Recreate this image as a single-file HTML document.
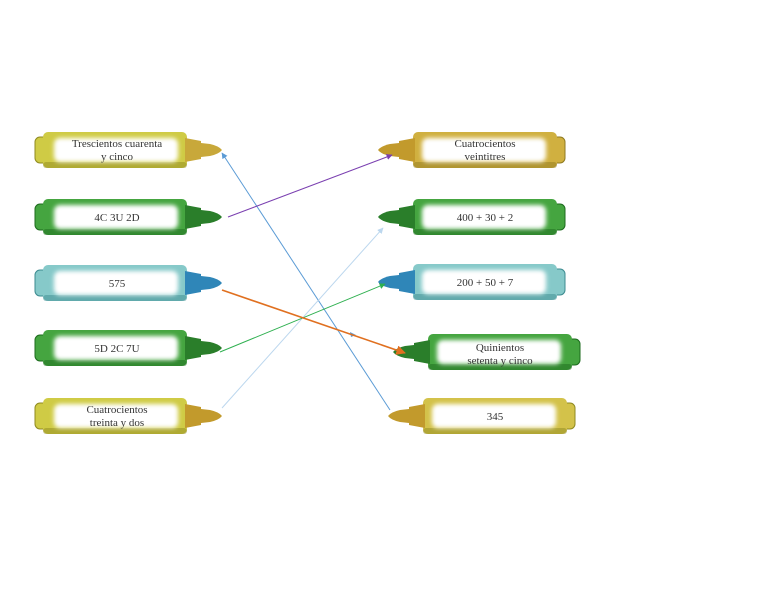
<!DOCTYPE html>
<html><head><meta charset="utf-8"><style>
html,body{margin:0;padding:0;background:#fff;width:768px;height:594px;overflow:hidden}
svg text{font-family:"Liberation Serif",serif;font-size:11px;fill:#333;text-anchor:middle}
</style></head><body>
<svg width="768" height="594" viewBox="0 0 768 594" xmlns="http://www.w3.org/2000/svg">
<defs>
<filter id="bl" x="-10%" y="-30%" width="120%" height="160%"><feGaussianBlur stdDeviation="2.2"/></filter>
<g id="mk">
<rect x="0" y="5" width="14" height="26" rx="5" fill="var(--b)" stroke="var(--d)" stroke-width="1"/>
<rect x="8" y="0" width="144" height="36" rx="5" fill="var(--b)"/>
<rect x="8" y="30" width="144" height="6" rx="3" fill="var(--d)" opacity=".5"/>
<rect x="19" y="6" width="124" height="24" rx="6" fill="#fff" filter="url(#bl)"/>
<path d="M150 6 L166 9 L166 27 L150 30 Z" fill="var(--t)"/>
<path d="M166 11 L175 12 Q184 14 187 18 Q184 22 175 24 L166 25 Z" fill="var(--t)"/>
</g>
<marker id="ar" viewBox="0 0 10 10" refX="9" refY="5" markerWidth="6" markerHeight="6" orient="auto-start-reverse"><path d="M0 0L10 5L0 10z" fill="context-stroke"/></marker>
</defs>
<use href="#mk" x="35" y="132" style="--b:#cfcb45;--d:#8f8a20;--t:#c8a83a"/>
<use href="#mk" x="35" y="199" style="--b:#45a540;--d:#1d6b1e;--t:#2a7e2a"/>
<use href="#mk" x="35" y="265" style="--b:#86c9c9;--d:#3c8b90;--t:#2f86b8"/>
<use href="#mk" x="35" y="330" style="--b:#45a540;--d:#1d6b1e;--t:#2a7e2a"/>
<use href="#mk" x="35" y="398" style="--b:#cfcb45;--d:#8f8a20;--t:#c29a2c"/>
<use href="#mk" transform="translate(565,132) scale(-1,1)" style="--b:#d0b040;--d:#8f7a20;--t:#c29a2c"/>
<use href="#mk" transform="translate(565,199) scale(-1,1)" style="--b:#45a540;--d:#1d6b1e;--t:#2a7e2a"/>
<use href="#mk" transform="translate(565,264) scale(-1,1)" style="--b:#86c9c9;--d:#3c8b90;--t:#2f86b8"/>
<use href="#mk" transform="translate(580,334) scale(-1,1)" style="--b:#45a540;--d:#1d6b1e;--t:#2a7e2a"/>
<use href="#mk" transform="translate(575,398) scale(-1,1)" style="--b:#d3c24a;--d:#8f8a20;--t:#c29a2c"/>
<text x="117" y="147">Trescientos cuarenta</text><text x="117" y="160">y cinco</text>
<text x="117" y="221">4C 3U 2D</text>
<text x="117" y="287">575</text>
<text x="117" y="352">5D 2C 7U</text>
<text x="117" y="413">Cuatrocientos</text><text x="117" y="426">treinta y dos</text>
<text x="485" y="147">Cuatrocientos</text><text x="485" y="160">veintitres</text>
<text x="485" y="221">400 + 30 + 2</text>
<text x="485" y="286">200 + 50 + 7</text>
<text x="500" y="351">Quinientos</text><text x="500" y="364">setenta y cinco</text>
<text x="495" y="420">345</text>
<line x1="390" y1="410" x2="222" y2="153" stroke="#5b9bd5" stroke-width="1" marker-end="url(#ar)"/>
<path d="M350 332 l6 3 l-5 2z" fill="#5b9bd5"/>
<line x1="228" y1="217" x2="392" y2="155" stroke="#7a3fb0" stroke-width="1" marker-end="url(#ar)"/>
<line x1="222" y1="408" x2="383" y2="228" stroke="#bcd7ee" stroke-width="1" marker-end="url(#ar)"/>
<line x1="220" y1="352" x2="385" y2="284" stroke="#2fb050" stroke-width="1" marker-end="url(#ar)"/>
<line x1="222" y1="290" x2="405" y2="353" stroke="#e07020" stroke-width="1.6" marker-end="url(#ar)"/>
</svg>
</body></html>
